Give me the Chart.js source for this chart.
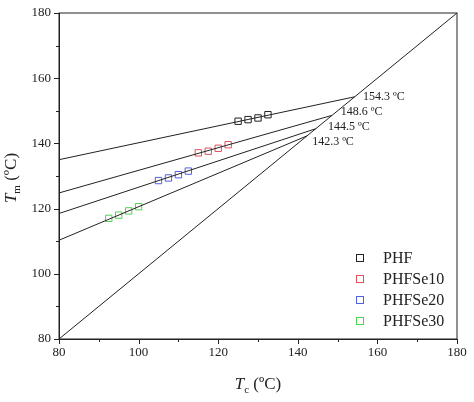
<!DOCTYPE html>
<html>
<head>
<meta charset="utf-8">
<script src="https://cdn.jsdelivr.net/npm/chart.js@4/dist/chart.umd.min.js"></script>
<style>
  body { margin: 0; background: #fff; }
  #wrap { width: 474px; height: 402px; }
</style>
</head>
<body>
<div id="wrap"><canvas id="chart"></canvas></div>
<script>
// data
const seriesNames = ['PHF', 'PHFSe10', 'PHFSe20', 'PHFSe30'];
const seriesColors = ['#222222', '#e0505a', '#5060e0', '#50d050'];
const tcPHF = [125, 127.5, 130, 132.5];
const tmPHF = [146.8, 147.3, 147.8, 148.8];
const tcSe10 = [115, 117.5, 120, 122.5];
const tmSe10 = [137.1, 137.6, 138.5, 139.6];
const tcSe20 = [105, 107.5, 110, 112.5];
const tmSe20 = [128.6, 129.4, 130.4, 131.5];
const tcSe30 = [92.5, 95, 97.5, 100];
const tmSe30 = [117, 118, 119.3, 120.6];
// extrapolated lines: Tm at Tc=80 and equilibrium melting point
const lineStart = [135, 124.8, 118.5, 110.3];
const tm0 = [154.3, 148.6, 144.5, 142.3];
const xTicks = [80, 100, 120, 140, 160, 180];
const yTicks = [80, 100, 120, 140, 160, 180];

const FONT = '"Liberation Serif", "DejaVu Serif", serif';
const xs = [tcPHF, tcSe10, tcSe20, tcSe30];
const ys = [tmPHF, tmSe10, tmSe20, tmSe30];

const datasets = [];
// diagonal Tm = Tc
datasets.push({
    type: 'line', data: [{x: 80, y: 80}, {x: 180, y: 180}],
    borderColor: '#222', borderWidth: 1, pointRadius: 0
});
tm0.forEach((t, i) => {
    datasets.push({
        type: 'line', data: [{x: 80, y: lineStart[i]}, {x: t, y: t}],
        borderColor: '#222', borderWidth: 1, pointRadius: 0
    });
});
seriesNames.forEach((name, i) => {
    datasets.push({
        type: 'scatter', label: name,
        data: xs[i].map((x, j) => ({x: x, y: ys[i][j]})),
        pointStyle: 'rect', pointRadius: 4.5, borderWidth: 1,
        borderColor: seriesColors[i], backgroundColor: 'rgba(0,0,0,0)'
    });
});

// label offsets (data units) from each intersection
const labelOffsets = [[2.1, 0], [2.2, 1.1], [3.1, 0.6], [1.3, -1.8]];

const extras = {
    id: 'extras',
    afterDraw(chart) {
        const ctx = chart.ctx;
        const xS = chart.scales.x, yS = chart.scales.y;
        const a = chart.chartArea;
        ctx.save();
        ctx.strokeStyle = '#222';
        ctx.lineWidth = 1;
        // ticks, outward
        for (let v = 80; v <= 180; v += 10) {
            const len = v % 20 === 0 ? 5 : 3;
            const px = Math.round(xS.getPixelForValue(v)) + 0.5;
            ctx.beginPath(); ctx.moveTo(px, a.bottom); ctx.lineTo(px, a.bottom + len); ctx.stroke();
            const py = Math.round(yS.getPixelForValue(v)) + 0.5;
            ctx.beginPath(); ctx.moveTo(a.left, py); ctx.lineTo(a.left - len, py); ctx.stroke();
        }
        // tick labels
        ctx.fillStyle = '#222';
        ctx.font = '13px ' + FONT;
        ctx.textAlign = 'center'; ctx.textBaseline = 'top';
        xTicks.forEach(v => ctx.fillText(String(v), xS.getPixelForValue(v), a.bottom + 7));
        ctx.textAlign = 'right'; ctx.textBaseline = 'middle';
        yTicks.forEach(v => ctx.fillText(String(v), a.left - 8, yS.getPixelForValue(v)));
        // intersection labels
        ctx.font = '12px ' + FONT;
        ctx.textAlign = 'left';
        tm0.forEach((t, i) => {
            ctx.fillText(t.toFixed(1) + ' ºC',
                xS.getPixelForValue(t + labelOffsets[i][0]),
                yS.getPixelForValue(t + labelOffsets[i][1]));
        });
        // legend
        ctx.font = '16px ' + FONT;
        seriesNames.forEach((name, i) => {
            const yy = 258 + i * 21;
            ctx.strokeStyle = seriesColors[i];
            ctx.strokeRect(356.5, yy - 3.5, 7, 7);
            ctx.fillStyle = '#222';
            ctx.fillText(name, 383, yy + 1);
        });
        // axis titles
        const title = (sub) => {
            ctx.font = 'italic 17px ' + FONT;
            const w1 = ctx.measureText('T').width;
            ctx.font = '11px ' + FONT;
            const w2 = ctx.measureText(sub).width;
            ctx.font = '17px ' + FONT;
            const w3 = ctx.measureText(' (ºC)').width;
            let x0 = -(w1 + w2 + w3) / 2;
            ctx.textAlign = 'left'; ctx.textBaseline = 'middle';
            ctx.font = 'italic 17px ' + FONT; ctx.fillText('T', x0, 0);
            ctx.font = '11px ' + FONT; ctx.fillText(sub, x0 + w1, 5);
            ctx.font = '17px ' + FONT; ctx.fillText(' (ºC)', x0 + w1 + w2, 0);
        };
        ctx.fillStyle = '#222';
        ctx.save(); ctx.translate(258, 385); title('c'); ctx.restore();
        ctx.save(); ctx.translate(12, 178); ctx.rotate(-Math.PI / 2); title('m'); ctx.restore();
        ctx.restore();
    }
};

new Chart(document.getElementById('chart'), {
    type: 'scatter',
    data: { datasets: datasets },
    options: {
        responsive: true, maintainAspectRatio: false, animation: false,
        layout: { padding: { top: 13, right: 17, left: 0, bottom: 0 } },
        plugins: { legend: { display: false }, tooltip: { enabled: false } },
        scales: {
            x: {
                type: 'linear', min: 80, max: 180,
                grid: { display: false },
                border: { display: true, color: '#222', width: 1 },
                ticks: { display: false },
                afterFit(s) { s.height = 63; }
            },
            y: {
                type: 'linear', min: 80, max: 180,
                grid: { display: false },
                border: { display: true, color: '#222', width: 1 },
                ticks: { display: false },
                afterFit(s) { s.width = 59; }
            }
        }
    },
    plugins: [extras, {
        id: 'frame',
        afterDraw(chart) {
            const a = chart.chartArea, ctx = chart.ctx;
            ctx.save(); ctx.strokeStyle = '#222'; ctx.lineWidth = 1;
            ctx.strokeRect(a.left, a.top, a.right - a.left, a.bottom - a.top);
            ctx.restore();
        }
    }]
});
</script>
</body>
</html>
